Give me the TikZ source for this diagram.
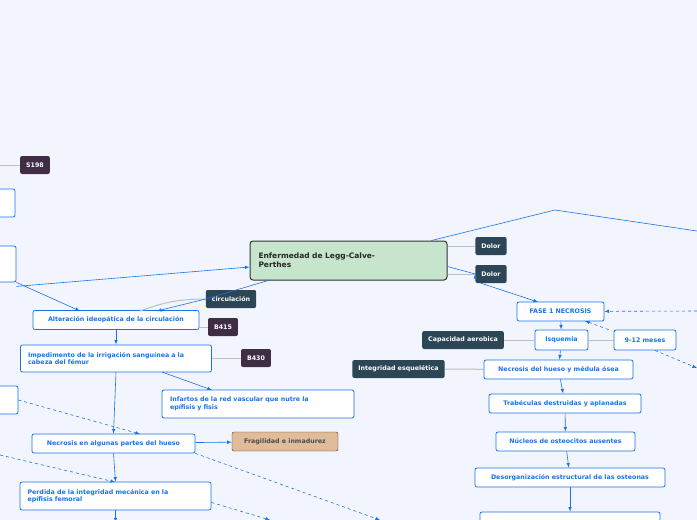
\documentclass[tikz,border=0pt]{standalone}
\usepackage{fontspec}
\setmainfont{DejaVu Sans}
\usetikzlibrary{positioning}
\definecolor{bg}{HTML}{F2F5FE}
\definecolor{blu}{HTML}{1A73E8}
\definecolor{dk}{HTML}{2D4656}
\definecolor{pur}{HTML}{3F2D45}
\definecolor{mainfill}{HTML}{C6E5CC}
\definecolor{tan}{HTML}{E0BC9A}
\tikzset{
  box/.style={draw=blu,fill=white,rounded corners=2pt,line width=0.8pt,text=blu,font=\bfseries\fontsize{6.3}{7.5}\selectfont,align=left,inner sep=3pt},
  tag/.style={fill=dk,rounded corners=2pt,text=white,font=\bfseries\fontsize{6.3}{7.5}\selectfont,inner xsep=6pt,minimum height=18},
  ptag/.style={tag,fill=pur},
  link/.style={blu,line width=0.6pt,-latex},
  dlink/.style={link,dashed},
  gray/.style={draw=gray!50,line width=1pt}
}
\begin{document}
\begin{tikzpicture}[x=1pt,y=-1pt]
	\useasboundingbox[fill=bg] (0,0) rectangle (697,520);
	% main topic
	\node[draw=black!80,fill=mainfill,rounded corners=3pt,line width=1pt,minimum width=197,minimum height=39,text width=180,align=left,font=\bfseries\fontsize{7.5}{9}\selectfont,text=black!85] (main) at (348.5,260.5) {Enfermedad de Legg-Calve-\\Perthes};
	\node[tag] (dol1) at (491,246) {Dolor};
	\node[tag] (dol2) at (491,274) {Dolor};
	\node[ptag] (s198) at (35,165) {S198};
	% cut boxes at left
	\node[box,minimum width=40,minimum height=28] (lb1) at (-5,203) {};
	\node[box,minimum width=40,minimum height=36] (lb2) at (-4,264) {};
	\node[box,minimum width=40,minimum height=28] (lb3) at (-2,400) {};
	% left branch
	\node[tag] (circ) at (231,299) {circulación};
	\node[box,minimum width=166,minimum height=19] (alt) at (116,320) {Alteración ideopática de la circulación};
	\node[ptag] (b415) at (223,327) {B415};
	\node[box,minimum width=191,minimum height=27,text width=176] (imp) at (116,358.5) {Impedimento de la irrigación sanguínea a la\\cabeza del fémur};
	\node[ptag] (b430) at (256,358) {B430};
	\node[box,minimum width=192,minimum height=28,text width=176] (inf) at (258,404) {Infartos de la red vascular que nutre la\\epífisis y fisis};
	\node[box,minimum width=163,minimum height=19] (necal) at (113.5,443.5) {Necrosis en algunas partes del hueso};
	\node[draw=black!60!brown,fill=tan,rounded corners=2pt,text=black!70,font=\bfseries\fontsize{6.3}{7.5}\selectfont,minimum width=106,minimum height=19] (frag) at (285,441.5) {Fragilidad e inmadurez};
	\node[box,minimum width=191,minimum height=28,text width=176] (perd) at (115.5,496) {Perdida de la integridad mecánica en la\\epífisis femoral};
	% right branch
	\node[box,minimum width=87,minimum height=19] (fase) at (560.5,311.5) {FASE 1 NECROSIS};
	\node[box,minimum width=53,minimum height=20] (isq) at (561.5,340) {Isquemia};
	\node[tag] (cap) at (463,340) {Capacidad aerobica};
	\node[box,minimum width=62,minimum height=20] (mes) at (645,340) {9-12 meses};
	\node[tag] (integ) at (398.5,369) {Integridad esquelética};
	\node[box,minimum width=149,minimum height=19] (nhue) at (558.5,369.5) {Necrosis del hueso y médula ósea};
	\node[box,minimum width=152,minimum height=19] (trab) at (565,403.5) {Trabéculas destruidas y aplanadas};
	\node[box,minimum width=139,minimum height=19] (nuc) at (565.5,441.5) {Núcleos de osteocitos ausentes};
	\node[box,minimum width=190,minimum height=19] (deso) at (570,477.5) {Desorganización estructural de las osteonas};
	\node[box,minimum width=180,minimum height=20] (bot) at (570,522) {};
	% free ends
	\coordinate (tr) at (697,231);
	\coordinate (re1) at (697,311);
	\coordinate (re2) at (697,368);
	\coordinate (le1) at (0,455);
	\coordinate (be1) at (380,520);
	\coordinate (be2) at (270,520);
	% connectors
	\draw[gray] (main.east |- dol1) -- (dol1);
	\draw[gray] (main.east |- dol2) -- (dol2);
	\draw[gray] (s198) -- (0,165);
	\draw[gray] (alt.east |- b415) -- (b415);
	\draw[gray] (imp.east |- b430) -- (b430);
	\draw[gray] (cap) -- (isq);
	\draw[gray] (isq) -- (mes);
	\draw[gray] (integ) -- (nhue);
	\draw[gray] (circ.west) to[bend right=10] (140,311);
	\draw[blu,line width=0.6pt] (main.north east) ++(-16,0) -- (555,210) -- (tr);
	\draw[link] (lb2.south east) ++(0,4) -- (main.west |- 0,267);
	\draw[link] (lb2.south east) ++(0,0) -- (80,311);
	\draw[link] (270,280) -- (circ.west) -- (157,311);
	\draw[link] (alt) -- (imp);
	\draw[link] (imp.south) -- (necal.north);
	\draw[link] (162,372) -- (212,390);
	\draw[link] (necal) -- (frag);
	\draw[link] (necal.south) -- (perd.north);
	\draw[link] (perd.south) -- ++(0,12);
	\draw[link] (main.east) ++(0,6) -- (dol2.west) ++(0,0);
	\draw[link] (dol2.south) ++(-10,0) -- (538,302);
	\draw[link] (fase) -- (isq);
	\draw[link] (isq) -- (nhue);
	\draw[link] (nhue) -- (trab);
	\draw[link] (trab) -- (nuc);
	\draw[link] (nuc) -- (deso);
	\draw[link] (deso) -- (bot);
	\draw[dlink] (re1) -- (fase);
	\draw[dlink] (mes.north west) ++(-5,0) -- (585,321);
	\draw[dlink] (mes.south) ++(10,0) -- (re2);
	\draw[dlink] (lb3.east) -- (140,434);
	\draw[dlink] (le1) -- (115,482);
	\draw[dlink] (necal.south east) -- (be1);
	\draw[dlink] (perd.south east) ++(0,-8) -- (be2);
\end{tikzpicture}
\end{document}
